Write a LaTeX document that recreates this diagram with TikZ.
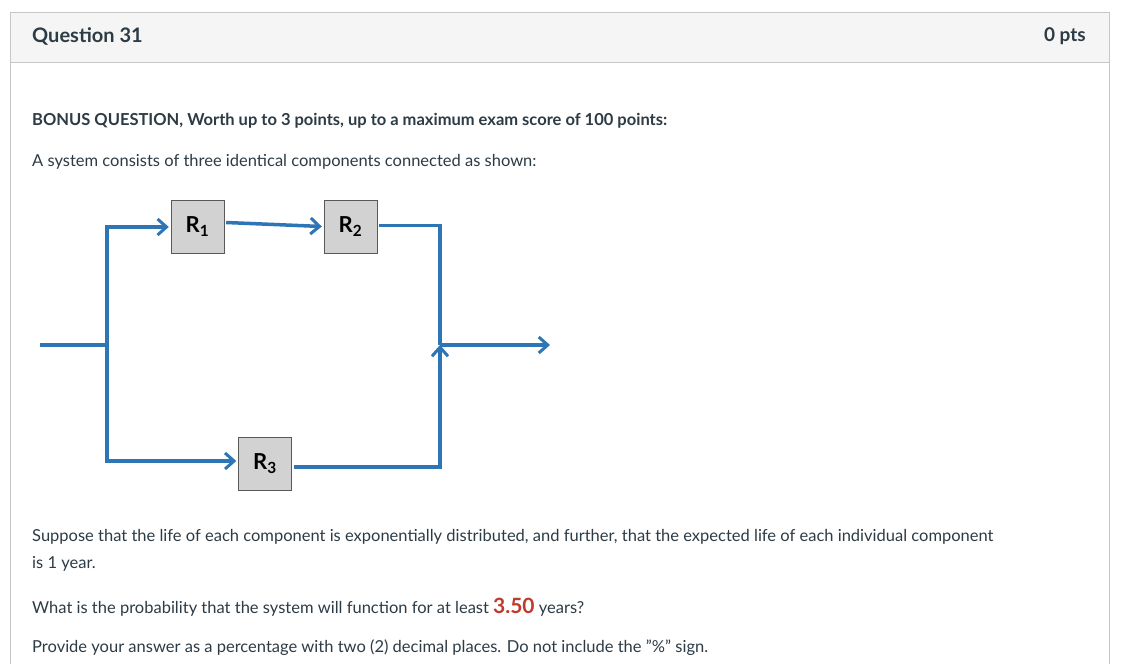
\documentclass[tikz,border=0pt]{standalone}
\usepackage{fontspec}
\setmainfont{Lato}
\usetikzlibrary{arrows.meta}
\definecolor{wire}{HTML}{2E75B6}
\definecolor{txt}{HTML}{2D3B45}
\definecolor{redv}{HTML}{C0392B}
\tikzset{
  box/.style={draw=gray!70!black, fill=gray!35, minimum width=53pt, minimum height=53pt, inner sep=0pt, font=\fontsize{22}{24}\selectfont\bfseries},
  w/.style={draw=wire, line width=3.5pt},
  arr/.style={w, -{Straight Barb[length=9pt,width=16pt,line width=3pt]}},
  t/.style={anchor=west, text=txt, font=\fontsize{16.5}{20}\selectfont, inner sep=0pt}
}
\begin{document}
\begin{tikzpicture}[x=1pt,y=-1pt]
\useasboundingbox (0,0) rectangle (1138,664);
\fill[white] (0,0) rectangle (1138,664);
\fill[gray!8] (10,12) rectangle (1109,62);
\draw[gray!45, line width=1pt] (10,680) -- (10,12) -- (1109,12) -- (1109,680);
\draw[gray!45, line width=1pt] (10,62) -- (1109,62);
\node[t, font=\fontsize{20}{24}\selectfont\bfseries] (q) at (32,36) {Question 31};
\node[t, anchor=east, font=\fontsize{19}{24}\selectfont\bfseries] (p) at (1086,36) {0 pts};
\node[t, font=\fontsize{16.5}{20}\selectfont\bfseries] (b) at (32,121) {BONUS QUESTION, Worth up to 3 points, up to a maximum exam score of 100 points:};
\node[t] (l1) at (32,162) {A system consists of three identical components connected as shown:};
\node[t] (l2) at (32,537) {Suppose that the life of each component is exponentially distributed, and further, that the expected life of each individual component};
\node[t] (l3) at (32,564) {is 1 year.};
\node[t] (l4) at (32,607) {What is the probability that the system will function for at least {\color{redv}\fontsize{21}{24}\selectfont\bfseries 3.50} years?};
\node[t] (l5) at (32,648) {Provide your answer as a percentage with two (2) decimal places. Do not include the "\%" sign.};

\node[box] (r1) at (197.5,226.5) {R\textsubscript{1}};
\node[box] (r2) at (350.5,226.5) {R\textsubscript{2}};
\node[box] (r3) at (265,464) {R\textsubscript{3}};
\coordinate (in) at (40,345);
\coordinate (sp) at (107,345);
\coordinate (jn) at (440,345);
\coordinate (out) at (550,345);
\draw[w] (in) -- (sp);
\draw[arr] (sp) |- ([xshift=-2pt]r1.west |- 0,227);
\draw[arr] ([xshift=2pt,yshift=4pt]r1.east) -- ([xshift=-2pt]r2.west);
\draw[w] ([xshift=2pt,yshift=1pt]r2.east) -| (jn);
\draw[arr] (sp) |- ([xshift=-2pt]r3.west |- 0,461);
\draw[arr] ([xshift=2pt,yshift=-3pt]r3.east) -| (jn);
\draw[arr] (jn) -- (out);
\end{tikzpicture}
\end{document}
